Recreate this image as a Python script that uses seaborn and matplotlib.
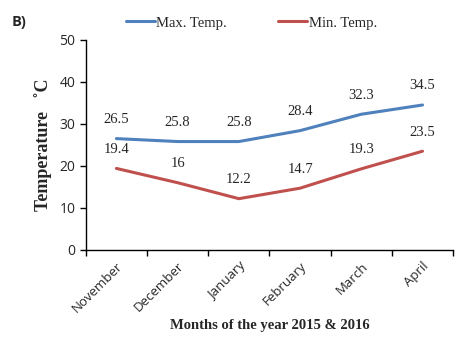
import matplotlib
matplotlib.use("Agg")
import matplotlib.pyplot as plt
import numpy as np
import pandas as pd
import seaborn as sns
from matplotlib.lines import Line2D

months = ["November", "December", "January", "February", "March", "April"]
max_temp = [26.5, 25.8, 25.8, 28.4, 32.3, 34.5]
min_temp = [19.4, 16, 12.2, 14.7, 19.3, 23.5]
labels_max = ["26.5", "25.8", "25.8", "28.4", "32.3", "34.5"]
labels_min = ["19.4", "16", "12.2", "14.7", "19.3", "23.5"]

df = pd.DataFrame({
    "month": months * 2,
    "temp": max_temp + min_temp,
    "series": ["Max. Temp."] * 6 + ["Min. Temp."] * 6,
})

sns.set_style("white")
serif = "Liberation Serif"
sans = "Open Sans"

fig = plt.figure(figsize=(4.74, 3.53), dpi=100)
ax = fig.add_axes([0.181, 0.292, 0.775, 0.595])

sns.lineplot(data=df, x="month", y="temp", hue="series",
             palette={"Max. Temp.": "#4F81BD", "Min. Temp.": "#C0504D"},
             linewidth=2.2, ax=ax, legend=False, sort=False)

x = np.arange(len(months))
for xi, v, t in zip(x, max_temp, labels_max):
    ax.annotate(t, (xi, v), xytext=(0, 9), textcoords="offset points",
                ha="center", va="bottom", fontsize=10.5, family=serif)
for xi, v, t in zip(x, min_temp, labels_min):
    ax.annotate(t, (xi, v), xytext=(0, 9), textcoords="offset points",
                ha="center", va="bottom", fontsize=10.5, family=serif)

ax.set_xlim(-0.5, len(months) - 0.5)
ax.set_ylim(0, 50)
ax.set_yticks([0, 10, 20, 30, 40, 50])
ax.set_xticks(x)
ax.set_xticklabels(months, rotation=45, ha="right", rotation_mode="anchor",
                   fontsize=9.5, family=sans)
ax.set_xticks(np.arange(-0.5, len(months)), minor=True)
ax.tick_params(axis="x", which="major", length=0, pad=7)
ax.tick_params(axis="x", which="minor", length=4, width=1, color="black",
               direction="out", bottom=True)
ax.tick_params(axis="y", length=4, width=1, color="black", direction="out",
               left=True, labelsize=10)
for lab in ax.get_yticklabels():
    lab.set_family(sans)

for s in ["top", "right"]:
    ax.spines[s].set_visible(False)
for s in ["left", "bottom"]:
    ax.spines[s].set_color("black")
    ax.spines[s].set_linewidth(1)

ax.set_xlabel("Months of the year 2015 & 2016", family=serif,
              fontweight="bold", fontsize=10.5, labelpad=3)
ax.set_ylabel("Temperature   \u02daC", family=serif, fontweight="bold",
              fontsize=13, labelpad=5)

handles = [Line2D([], [], color="#4F81BD", lw=2.2),
           Line2D([], [], color="#C0504D", lw=2.2)]
fig.legend(handles, ["Max. Temp.", "Min. Temp."], loc="center",
           bbox_to_anchor=(0.53, 0.935), ncol=2, frameon=False,
           prop={"family": serif, "size": 10.5}, handlelength=2.0,
           handletextpad=0.1, columnspacing=3.5)

fig.text(0.025, 0.925, "B)", family=sans, fontweight="bold", fontsize=10.5)

fig.savefig("out.png", dpi=100)
